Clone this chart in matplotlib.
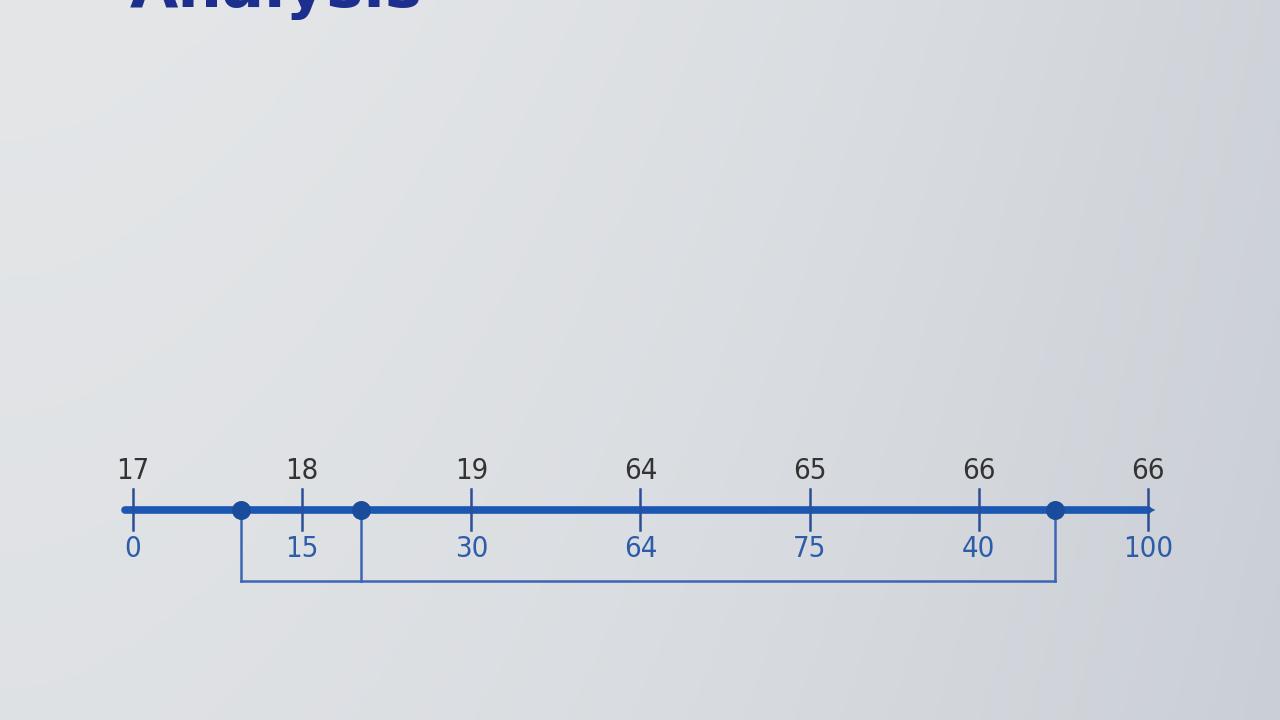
import numpy as np
import matplotlib.pyplot as plt

# data
tick_pos = [0, 1, 2, 3, 4, 5, 6]
top_labels = ['17', '18', '19', '64', '65', '66', '66']
bottom_labels = ['0', '15', '30', '64', '75', '40', '100']
dot_pos = [0.64, 1.35, 5.45]
title = 'Analysis'

fig = plt.figure(figsize=(12.8, 7.2), dpi=100)

# background gradient
bg = fig.add_axes([0, 0, 1, 1])
xx, yy = np.meshgrid(np.linspace(0, 1, 256), np.linspace(0, 1, 144))
t = 0.8 * xx**1.8 + 0.2 * yy
c0 = np.array([228, 230, 232]) / 255
c1 = np.array([202, 207, 214]) / 255
img = c0[None, None, :] * (1 - t[..., None]) + c1[None, None, :] * t[..., None]
bg.imshow(img, aspect='auto', extent=[0, 1, 0, 1], origin='upper')
bg.axis('off')

ax = fig.add_axes([0, 0, 1, 1])
ax.patch.set_alpha(0)
unit = (1148 - 133) / 6
ax.set_xlim(-133 / unit, (1280 - 133) / unit)
ax.set_ylim(720, 0)
ax.axis('off')

y_line = 510
y_br = 581

# main line
ax.plot([-0.05, 6.0], [y_line, y_line], color='#1b57b3', lw=5.5,
        solid_capstyle='round', zorder=2)
ax.annotate('', xy=(6.06, y_line), xytext=(5.95, y_line),
            arrowprops=dict(arrowstyle='-|>,head_length=0.5,head_width=0.25',
                            color='#1b57b3', lw=0), zorder=2)

# ticks and labels
for p, tl, bl in zip(tick_pos, top_labels, bottom_labels):
    ax.plot([p, p], [489, 530], color='#2b4f96', lw=1.8, zorder=3)
    ax.text(p, 471, tl, ha='center', va='center', fontsize=21,
            color='#333333', family='DejaVu Sans', fontstretch='condensed')
    ax.text(p, 549, bl, ha='center', va='center', fontsize=21,
            color='#2d5ca8', family='DejaVu Sans', fontstretch='condensed')

# bracket
ax.plot([dot_pos[0], dot_pos[-1]], [y_br, y_br], color='#3b66b2', lw=1.8, zorder=1)
for d in dot_pos:
    ax.plot([d, d], [y_line, y_br], color='#3b66b2', lw=1.8, zorder=1)

# dots
ax.scatter(dot_pos, [y_line] * len(dot_pos), s=160, color='#1a4c9c', zorder=4)

fig.text(130 / 1280, 1 - 7 / 720, title, ha='left', va='baseline',
         fontsize=45, fontweight='bold', color='#1c2e8e')

fig.savefig('out.png', dpi=100)
